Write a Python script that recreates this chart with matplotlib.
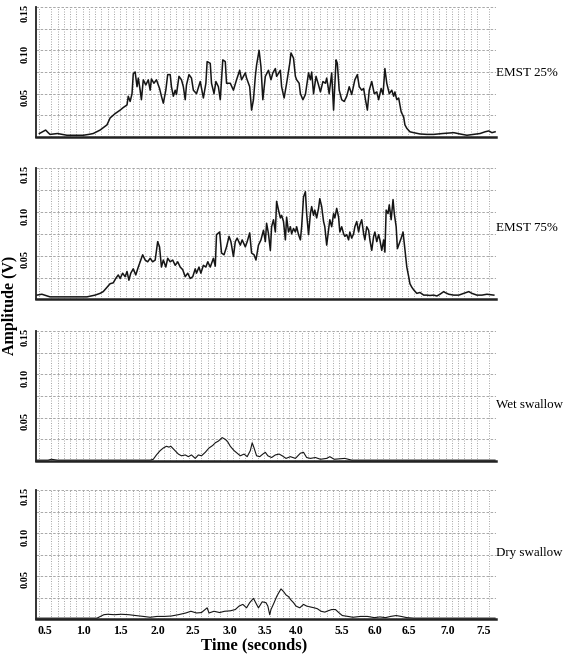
import matplotlib
matplotlib.use("Agg")
import matplotlib.pyplot as plt
import matplotlib.transforms as mtransforms
import numpy as np

SERIF = ["Liberation Serif", "DejaVu Serif"]

# x-axis tick labels as printed under the bottom panel (positions)
tick_pos = [0.50, 1.107, 1.699, 2.306, 2.865, 3.457, 4.016, 4.511, 5.247, 5.774, 6.317, 6.941, 7.50]
tick_labels = ["0.5", "1.0", "1.5", "2.0", "2.5", "3.0", "3.5", "4.0", "5.5", "6.0", "6.5", "7.0", "7.5"]
y_ticks = [0.05, 0.10, 0.15]
y_labels = ["0.05", "0.10", "0.15"]

panel_names = ["EMST 25%", "EMST 75%", "Wet swallow", "Dry swallow"]

# EMST 25%
t1 = [0.41, 0.46, 0.51, 0.55, 0.58, 0.70, 0.85, 1.00, 1.11, 1.20,
      1.27, 1.38, 1.49, 1.54, 1.62, 1.70, 1.75, 1.81, 1.83, 1.86,
      1.89, 1.91, 1.94, 1.97, 1.99, 2.02, 2.04, 2.07, 2.11, 2.15,
      2.18, 2.20, 2.24, 2.28, 2.33, 2.36, 2.39, 2.43, 2.46, 2.50,
      2.52, 2.55, 2.58, 2.60, 2.64, 2.68, 2.71, 2.74, 2.76, 2.80,
      2.84, 2.87, 2.92, 2.98, 3.03, 3.07, 3.09, 3.14, 3.16, 3.20,
      3.23, 3.27, 3.30, 3.34, 3.38, 3.40, 3.46, 3.51, 3.56, 3.61,
      3.64, 3.70, 3.72, 3.77, 3.80, 3.83, 3.86, 3.88, 3.92, 3.95,
      3.98, 4.02, 4.07, 4.11, 4.14, 4.18, 4.20, 4.26, 4.28, 4.32,
      4.36, 4.41, 4.43, 4.47, 4.50, 4.52, 4.56, 4.58, 4.62, 4.66,
      4.71, 4.74, 4.76, 4.79, 4.83, 4.87, 4.90, 4.94, 4.98, 5.00,
      5.04, 5.08, 5.11, 5.15, 5.17, 5.20, 5.24, 5.28, 5.32, 5.36,
      5.40, 5.45, 5.49, 5.52, 5.56, 5.59, 5.62, 5.65, 5.68, 5.72,
      5.76, 5.80, 5.83, 5.87, 5.90, 5.93, 5.96, 6.00, 6.04, 6.07,
      6.09, 6.12, 6.15, 6.19, 6.23, 6.25, 6.28, 6.33, 6.39, 6.49,
      6.60, 6.71, 6.85, 7.03, 7.13, 7.24, 7.35, 7.45, 7.53, 7.59, 7.64, 7.69]
a1 = [0.004, 0.006, 0.008, 0.005, 0.003, 0.004, 0.002, 0.002, 0.002, 0.003,
      0.004, 0.008, 0.014, 0.022, 0.027, 0.031, 0.034, 0.037, 0.047, 0.041,
      0.050, 0.073, 0.075, 0.058, 0.068, 0.054, 0.043, 0.066, 0.060, 0.066,
      0.054, 0.067, 0.062, 0.066, 0.056, 0.047, 0.039, 0.054, 0.072, 0.072,
      0.058, 0.047, 0.054, 0.049, 0.070, 0.066, 0.058, 0.043, 0.060, 0.072,
      0.068, 0.054, 0.050, 0.064, 0.045, 0.062, 0.087, 0.085, 0.062, 0.050,
      0.064, 0.058, 0.043, 0.089, 0.087, 0.062, 0.062, 0.054, 0.066, 0.077,
      0.066, 0.074, 0.068, 0.058, 0.031, 0.043, 0.070, 0.083, 0.100, 0.081,
      0.043, 0.070, 0.077, 0.066, 0.074, 0.079, 0.070, 0.077, 0.058, 0.045,
      0.062, 0.085, 0.097, 0.091, 0.070, 0.066, 0.062, 0.050, 0.043, 0.049,
      0.074, 0.066, 0.075, 0.050, 0.070, 0.060, 0.052, 0.064, 0.062, 0.068,
      0.050, 0.074, 0.031, 0.089, 0.085, 0.054, 0.043, 0.041, 0.047, 0.058,
      0.049, 0.066, 0.072, 0.058, 0.054, 0.056, 0.043, 0.031, 0.054, 0.064,
      0.050, 0.052, 0.043, 0.056, 0.049, 0.079, 0.062, 0.050, 0.054, 0.047,
      0.052, 0.043, 0.045, 0.029, 0.023, 0.014, 0.010, 0.006, 0.005, 0.0035,
      0.003, 0.003, 0.004, 0.005, 0.0035, 0.002, 0.003, 0.004, 0.006, 0.007, 0.005, 0.006]

# EMST 75%
t2 = [0.37, 0.45, 0.58, 0.69, 0.90, 1.17, 1.30, 1.38, 1.43, 1.49,
      1.54, 1.59, 1.63, 1.67, 1.70, 1.74, 1.78, 1.81, 1.84, 1.87,
      1.91, 1.95, 1.99, 2.02, 2.06, 2.10, 2.14, 2.18, 2.22, 2.26,
      2.30, 2.33, 2.36, 2.39, 2.43, 2.46, 2.50, 2.54, 2.58, 2.62,
      2.66, 2.70, 2.74, 2.78, 2.82, 2.86, 2.90, 2.92, 2.96, 2.99,
      3.03, 3.07, 3.10, 3.14, 3.16, 3.19, 3.22, 3.24, 3.29, 3.32,
      3.36, 3.40, 3.44, 3.47, 3.51, 3.54, 3.57, 3.62, 3.65, 3.70,
      3.73, 3.77, 3.80, 3.84, 3.87, 3.91, 3.95, 3.99,
      4.02, 4.04, 4.07, 4.10, 4.12, 4.15, 4.18, 4.20, 4.23, 4.26,
      4.28, 4.31, 4.34, 4.36, 4.39, 4.42, 4.44, 4.47, 4.50, 4.52,
      4.55, 4.58, 4.60, 4.63, 4.66, 4.68, 4.71, 4.74, 4.76, 4.79,
      4.81, 4.84, 4.87, 4.89, 4.92, 4.95, 4.97, 5.00, 5.03, 5.05,
      5.08, 5.11, 5.13, 5.16, 5.19, 5.21, 5.24, 5.27, 5.29, 5.32,
      5.35, 5.37, 5.40, 5.43, 5.45, 5.48, 5.51, 5.53, 5.56, 5.59,
      5.61, 5.64, 5.67, 5.69, 5.72, 5.75, 5.77, 5.80, 5.83, 5.85,
      5.88, 5.91, 5.93, 5.95, 5.98, 6.00, 6.03, 6.06, 6.08, 6.11,
      6.13, 6.16, 6.19, 6.22, 6.24, 6.26, 6.28, 6.31, 6.33, 6.36,
      6.39, 6.44, 6.49, 6.55, 6.60, 6.65, 6.71, 6.76, 6.81, 6.87,
      6.89, 6.95, 7.03, 7.11, 7.19, 7.27, 7.32, 7.40, 7.48, 7.56, 7.67]
a2 = [0.005, 0.006, 0.003, 0.003, 0.003, 0.003, 0.005, 0.007, 0.009, 0.014,
      0.018, 0.019, 0.024, 0.028, 0.024, 0.030, 0.026, 0.032, 0.022, 0.030,
      0.035, 0.028, 0.037, 0.043, 0.051, 0.045, 0.043, 0.047, 0.043, 0.045,
      0.066, 0.060, 0.037, 0.045, 0.037, 0.047, 0.043, 0.045, 0.039, 0.043,
      0.037, 0.034, 0.026, 0.030, 0.024, 0.026, 0.035, 0.030, 0.037, 0.030,
      0.039, 0.037, 0.043, 0.037, 0.041, 0.047, 0.038, 0.074, 0.077, 0.053,
      0.051, 0.060, 0.072, 0.066, 0.049, 0.066, 0.070, 0.062, 0.068, 0.060,
      0.066, 0.076, 0.053, 0.051, 0.045, 0.062, 0.068, 0.079,
      0.066, 0.087, 0.075, 0.056, 0.083, 0.091, 0.077, 0.112, 0.102, 0.093,
      0.096, 0.089, 0.068, 0.094, 0.077, 0.083, 0.075, 0.081, 0.077, 0.083,
      0.074, 0.068, 0.083, 0.117, 0.123, 0.098, 0.074, 0.098, 0.106, 0.096,
      0.102, 0.093, 0.104, 0.115, 0.106, 0.089, 0.083, 0.062, 0.079, 0.091,
      0.083, 0.098, 0.093, 0.104, 0.094, 0.077, 0.083, 0.075, 0.072, 0.074,
      0.068, 0.077, 0.070, 0.075, 0.083, 0.089, 0.077, 0.085, 0.091, 0.075,
      0.068, 0.083, 0.079, 0.068, 0.056, 0.072, 0.077, 0.066, 0.074, 0.068,
      0.056, 0.068, 0.054, 0.102, 0.098, 0.108, 0.091, 0.114, 0.098, 0.083,
      0.058, 0.064, 0.070, 0.077, 0.064, 0.051, 0.037, 0.026, 0.018, 0.014,
      0.011, 0.007, 0.008, 0.005, 0.005, 0.0046, 0.005, 0.004, 0.006, 0.009,
      0.008, 0.006, 0.005, 0.005, 0.007, 0.009, 0.007, 0.005, 0.005, 0.006, 0.005]

# Wet swallow
t3 = [0.37, 0.55, 0.60, 0.70, 1.00, 1.50, 2.00, 2.18, 2.23, 2.28,
      2.34, 2.39, 2.44, 2.48, 2.51, 2.55, 2.59, 2.63, 2.68, 2.74,
      2.79, 2.84, 2.90, 2.95, 3.00, 3.06, 3.12, 3.18, 3.22, 3.27,
      3.33, 3.38, 3.42, 3.46, 3.52, 3.57, 3.62, 3.68, 3.73, 3.78,
      3.81, 3.84, 3.88, 3.93, 3.98, 4.02, 4.06, 4.12, 4.18, 4.24,
      4.29, 4.35, 4.42, 4.50, 4.58, 4.63, 4.68, 4.74, 4.82, 4.90,
      5.00, 5.05, 5.12, 5.29, 5.40, 6.00, 6.50, 7.00, 7.69]
a3 = [0.001, 0.001, 0.002, 0.001, 0.001, 0.001, 0.001, 0.001, 0.002, 0.007,
      0.012, 0.015, 0.017, 0.016, 0.017, 0.014, 0.011, 0.008, 0.006, 0.007,
      0.005, 0.007, 0.003, 0.007, 0.006, 0.010, 0.015, 0.018, 0.021, 0.023,
      0.027, 0.025, 0.022, 0.017, 0.012, 0.009, 0.006, 0.008, 0.005, 0.012,
      0.021, 0.015, 0.006, 0.005, 0.008, 0.010, 0.006, 0.004, 0.007, 0.008,
      0.006, 0.003, 0.005, 0.003, 0.009, 0.010, 0.004, 0.003, 0.004, 0.002,
      0.003, 0.005, 0.002, 0.003, 0.001, 0.001, 0.001, 0.001, 0.001]

# Dry swallow
t4 = [0.36, 0.81, 1.10, 1.33, 1.44, 1.50, 1.61, 1.72, 1.84, 1.95,
      2.07, 2.18, 2.29, 2.41, 2.52, 2.63, 2.75, 2.83, 2.92, 3.00,
      3.09, 3.12, 3.20, 3.29, 3.37, 3.46, 3.54, 3.60, 3.66, 3.72,
      3.77, 3.83, 3.88, 3.91, 3.97, 4.03, 4.06, 4.09, 4.11, 4.16,
      4.20, 4.23, 4.27, 4.31, 4.35, 4.39, 4.43, 4.47, 4.51, 4.57,
      4.63, 4.68, 4.74, 4.80, 4.85, 4.91, 4.97, 5.02, 5.08, 5.14,
      5.20, 5.25, 5.34, 5.42, 5.54, 5.65, 5.76, 5.85, 5.94, 6.02,
      6.11, 6.19, 6.28, 6.39, 6.50, 6.62, 6.90, 7.19, 7.47, 7.69]
a4 = [0.001, 0.001, 0.001, 0.001, 0.005, 0.0055, 0.005, 0.0055, 0.005, 0.004,
      0.003, 0.002, 0.003, 0.003, 0.0035, 0.005, 0.007, 0.009, 0.007, 0.0075,
      0.013, 0.007, 0.009, 0.0075, 0.009, 0.0095, 0.011, 0.015, 0.017, 0.013,
      0.019, 0.024, 0.017, 0.013, 0.020, 0.019, 0.015, 0.005, 0.011, 0.019,
      0.026, 0.030, 0.035, 0.032, 0.028, 0.026, 0.022, 0.019, 0.015, 0.013,
      0.017, 0.015, 0.014, 0.013, 0.012, 0.009, 0.008, 0.0095, 0.011, 0.011,
      0.007, 0.004, 0.003, 0.002, 0.003, 0.003, 0.0016, 0.0024, 0.0016, 0.003,
      0.004, 0.003, 0.0016, 0.001, 0.001, 0.001, 0.001, 0.001, 0.001, 0.001]

series = [(t1, a1), (t2, a2), (t3, a3), (t4, a4)]
label_y = [0.49, 0.545, 0.43, 0.51]
line_w = [1.1, 1.1, 0.8, 0.8]
# the printed y labels sit a few pixels below their gridlines
ylab_drop = [3, 4, 6]

# panel boxes in pixels: (top, bottom)
W, H = 567, 657
boxes = [(7, 137), (168, 299.5), (331, 461), (490, 619)]
left_px, right_px = 36, 496

fig = plt.figure(figsize=(W / 100, H / 100), dpi=100)

for i, ((t, a), (top, bot)) in enumerate(zip(series, boxes)):
    ax = fig.add_axes([left_px / W, 1 - bot / H, (right_px - left_px) / W, (bot - top) / H])
    ax.plot(t, a, color="#151515", lw=line_w[i])
    ax.set_xlim(0.356, 7.705)
    ax.set_ylim(0, 0.15)

    ax.set_xticks(tick_pos)
    ax.set_xticks(np.arange(0.4, 7.71, 0.1), minor=True)
    ax.set_yticks(y_ticks)
    ax.set_yticks([0.025, 0.075, 0.125], minor=True)
    ax.set_yticklabels([])
    if i == 3:
        ax.set_xticklabels(tick_labels, fontweight="bold", family=SERIF, fontsize=8.5)
    else:
        ax.set_xticklabels([])
    ax.tick_params(which="both", length=0)
    ax.tick_params(axis="x", pad=4)

    blend = mtransforms.blended_transform_factory(ax.transAxes, ax.transData)
    for val, lab, drop in zip(y_ticks, y_labels, ylab_drop):
        off = mtransforms.ScaledTranslation(-11 / 100, -drop / 100, fig.dpi_scale_trans)
        ax.text(0, val, lab, transform=blend + off, rotation=90, ha="center", va="center",
                fontweight="bold", family=SERIF, fontsize=7.5)

    ax.xaxis.grid(True, which="minor", color="#9a9a9a", lw=0.6, dashes=(1.2, 1.8))
    ax.yaxis.grid(True, which="both", color="#9a9a9a", lw=0.6, dashes=(3, 2))
    ax.xaxis.grid(False, which="major")

    for s in ("top", "right"):
        ax.spines[s].set_visible(False)
    ax.spines["left"].set_linewidth(1.3)
    ax.spines["bottom"].set_linewidth(1.8)
    ax.spines["left"].set_color("#222222")
    ax.spines["bottom"].set_color("#222222")

    ax.text(1.0, label_y[i], panel_names[i], transform=ax.transAxes,
            ha="left", va="center", family=SERIF, fontsize=9.4)

fig.text(10 / W, 1 - 305 / H, "Amplitude (V)", rotation=90, ha="center", va="center",
         fontweight="bold", family=SERIF, fontsize=11.5)
fig.text(254 / W, 1 - 645 / H, "Time (seconds)", ha="center", va="center",
         fontweight="bold", family=SERIF, fontsize=12)

fig.savefig("out.png", dpi=100)
